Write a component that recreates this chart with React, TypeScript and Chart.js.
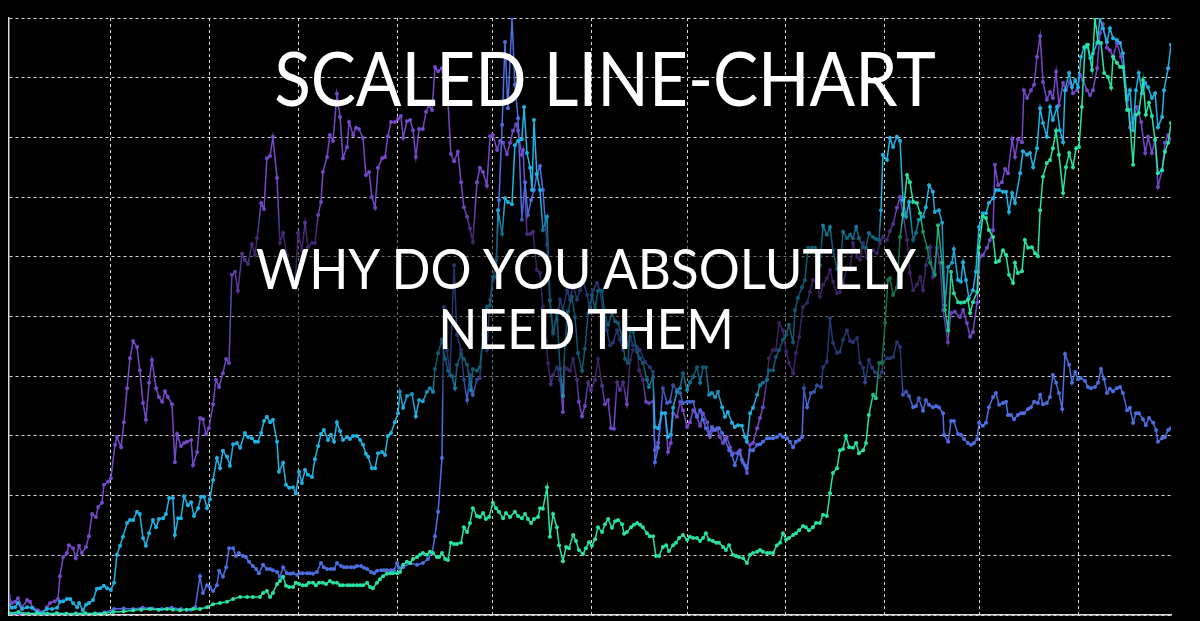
import React, { useEffect, useRef } from 'react';
import { Chart, registerables } from 'chart.js';

Chart.register(...registerables);

// Day index 0 = 30 Nov; grid lines at the first day of each month
const monthStartDays = [32, 63, 91, 122, 152, 183, 213, 244, 275, 305, 336];
const monthLabels = ['Jan', 'Feb', 'Mar', 'Apr', 'May', 'Jun', 'Jul', 'Aug', 'Sep', 'Oct', 'Nov'];
const scaledTicks = [0, 10, 20, 30, 40, 50, 60, 70, 80, 90, 100];

const titleText = 'SCALED LINE-CHART';
const subtitleLines = ['WHY DO YOU ABSOLUTELY', 'NEED THEM'];

// [day, scaled value in %]
const purpleSeries: [number, number][] = [
  [0,3.2],[0.9,2.0],[1.9,2.2],[2.8,2.8],[4.1,1.3],[5.7,2.5],[6.6,2.2],[7.5,1.2],[9.1,0.8],[10.7,0.5],[11.9,1.3],[12.9,2.0],[14.4,2.3],[15.4,2.7],[16.0,6.5],[17.0,9.7],[18.2,10.4],[18.8,11.7],[20.1,11.2],[21.0,9.5],[22.0,11.6],[22.9,10.4],[24.2,11.4],[25.1,13.2],[26.1,16.9],[27.3,16.4],[28.0,18.1],[29.2,18.8],[29.8,21.8],[31.1,22.3],[32.0,22.9],[33.3,28.5],[33.9,29.8],[35.2,28.1],[36.1,32.3],[37.1,38.0],[38.0,43.0],[39.0,45.9],[40.2,44.9],[41.1,41.0],[42.1,35.5],[43.0,32.7],[44.0,38.9],[44.9,42.7],[46.2,38.0],[47.1,36.5],[48.1,35.7],[49.0,37.5],[49.9,36.5],[51.2,35.3],[52.1,25.6],[52.8,30.3],[54.0,28.3],[55.0,28.8],[55.9,29.0],[57.2,29.3],[57.8,25.1],[59.1,27.3],[60.0,33.0],[60.9,32.8],[61.9,30.3],[62.8,31.3],[64.1,35.3],[65.0,39.4],[66.0,38.2],[67.2,40.5],[68.2,42.9],[69.1,42.2],[70.0,57.0],[71.0,57.5],[71.9,54.3],[73.2,60.5],[74.1,59.5],[75.1,58.8],[76.3,62.1],[77.3,60.3],[77.9,63.1],[79.2,69.0],[80.1,68.0],[81.0,76.5],[82.0,76.9],[82.9,80.1],[84.2,73.2],[85.1,62.3],[86.1,64.0],[87.3,60.3],[88.3,57.8],[89.8,54.8],[90.8,64.0],[92.0,61.1],[93.0,65.7],[93.9,61.6],[95.2,62.3],[96.1,62.3],[97.1,67.0],[98.0,69.2],[98.6,74.2],[99.9,76.7],[100.8,80.4],[101.8,79.4],[103.0,87.3],[104.0,83.4],[104.9,76.5],[106.2,78.4],[106.8,82.6],[108.1,80.4],[109.0,81.6],[109.9,81.4],[111.2,79.9],[112.1,73.7],[113.1,74.2],[114.0,70.0],[115.0,68.2],[115.9,74.9],[117.2,76.5],[118.1,76.7],[119.0,80.2],[120.0,82.6],[121.2,82.6],[122.2,83.1],[123.1,83.6],[123.8,79.9],[125.0,82.7],[126.0,82.9],[126.9,81.2],[127.8,76.7],[128.8,81.4],[130.0,81.4],[131.0,84.3],[131.9,85.3],[132.9,84.6],[133.8,91.8],[134.8,91.1],[136.0,91.6],[137.0,87.9],[137.9,85.9],[138.8,77.2],[139.8,76.0],[141.0,77.6],[142.0,72.5],[142.9,68.3],[143.9,66.7],[144.8,64.7],[145.7,62.5],[147.0,72.5],[147.9,74.9],[148.9,74.2],[150.1,71.9],[151.1,80.2],[152.0,80.4],[153.3,77.9],[154.2,79.4],[155.2,79.1],[156.4,77.2],[157.4,79.1],[158.3,81.1],[159.3,82.2],[159.9,81.1],[161.1,77.1],[161.5,77.9],[162.7,63.8],[163.7,63.8],[164.6,64.2],[165.8,57.8],[166.8,57.3],[167.7,51.6],[168.7,45.9],[169.3,42.2],[170.2,38.7],[170.9,40.2],[172.1,41.5],[173.1,39.4],[174.0,34.0],[174.6,41.5],[175.3,41.2],[176.2,40.9],[177.2,42.9],[178.4,39.4],[179.0,35.7],[180.0,33.3],[180.9,35.0],[181.9,39.0],[182.8,37.7],[184.1,39.4],[185.0,42.9],[186.3,38.4],[187.2,35.3],[188.2,36.0],[189.1,31.3],[190.0,31.2],[191.0,39.0],[191.9,37.7],[192.9,39.0],[194.1,35.3],[195.1,42.7],[196.0,44.4],[197.3,44.7],[197.9,41.0],[199.1,39.4],[200.1,35.7],[201.0,35.5],[202.3,35.7],[202.9,27.6],[203.9,28.8],[205.1,33.8],[206.1,33.8],[207.0,27.3],[207.9,28.8],[208.6,33.8],[209.8,33.2],[210.8,35.7],[211.7,34.3],[213.0,31.5],[213.9,32.3],[214.9,34.3],[216.1,33.2],[217.1,31.7],[218.0,33.8],[219.3,32.3],[220.2,29.8],[221.1,31.0],[222.4,31.3],[223.3,29.8],[224.3,28.8],[225.5,29.8],[226.5,28.1],[227.4,27.1],[228.7,27.1],[229.6,27.6],[230.6,25.5],[231.8,23.8],[232.8,28.5],[233.7,28.8],[235.0,31.3],[235.9,33.0],[236.8,34.8],[238.1,39.4],[238.7,43.0],[240.0,44.4],[240.9,44.4],[241.9,48.9],[243.1,47.7],[244.1,44.1],[245.0,42.2],[246.3,40.5],[247.2,43.9],[248.2,46.6],[249.4,51.6],[250.7,52.3],[251.6,54.1],[252.5,56.1],[253.8,55.6],[254.7,53.3],[255.7,55.3],[256.9,56.4],[257.9,57.8],[258.8,55.8],[260.1,53.9],[261.0,54.1],[262.0,55.6],[263.2,58.1],[264.2,57.8],[265.1,62.3],[266.4,60.0],[267.3,59.5],[268.3,62.3],[269.5,59.8],[270.4,60.8],[271.4,61.1],[272.6,60.6],[273.6,62.3],[274.5,63.3],[275.8,62.8],[276.7,64.3],[277.7,65.5],[278.9,68.2],[279.9,70.0],[280.8,67.3],[282.1,62.8],[283.0,57.3],[284.0,54.4],[285.2,55.3],[286.2,56.6],[287.1,54.4],[288.0,58.6],[289.3,61.6],[290.2,56.6],[291.5,61.5],[292.4,59.0],[293.4,51.1],[294.9,45.7],[295.9,50.6],[297.1,50.8],[298.7,49.9],[299.7,51.1],[300.9,48.9],[301.9,46.6],[302.8,47.4],[304.1,52.3],[305.0,60.0],[305.9,60.3],[307.2,61.5],[308.1,62.8],[309.1,64.5],[309.7,75.4],[310.7,72.0],[311.9,72.5],[312.9,74.7],[313.8,74.0],[315.1,79.7],[316.0,76.7],[316.9,79.7],[318.2,79.2],[318.8,87.9],[319.8,86.6],[321.0,87.9],[322.0,88.8],[322.9,93.5],[323.9,97.0],[324.8,89.3],[326.0,86.3],[327.0,87.6],[327.9,86.6],[328.9,91.0],[329.8,85.4],[331.1,89.1],[332.0,87.9],[333.3,89.3],[334.2,87.4],[335.5,87.9],[336.4,90.5],[337.4,89.6],[338.6,87.9],[339.6,87.1],[340.5,87.9],[341.8,91.6],[342.7,97.5],[343.6,99.0],[344.9,95.0],[345.8,94.6],[346.8,93.5],[348.0,95.8],[349.3,93.5],[349.9,91.8],[351.2,86.8],[352.1,81.7],[353.1,83.2],[354.3,85.1],[355.6,82.6],[356.9,77.4],[357.8,80.1],[359.0,77.4],[360.0,79.6],[360.9,71.7],[362.2,74.5],[363.1,79.1],[364.1,80.4],[365.0,79.7]
];

const cyanSeries: [number, number][] = [
  [0,1.7],[0.9,1.2],[1.9,1.3],[2.8,2.0],[4.1,1.0],[5.7,1.3],[7.2,1.2],[8.8,0.5],[10.4,0.3],[11.9,1.0],[13.5,1.0],[15.1,1.2],[16.0,2.2],[17.0,2.3],[18.2,2.7],[19.2,2.7],[20.1,2.0],[21.4,1.3],[22.0,2.0],[23.2,0.8],[24.2,1.7],[25.1,2.0],[26.4,2.5],[27.6,4.4],[28.6,4.5],[29.8,4.9],[30.8,4.5],[32.0,4.2],[33.0,5.4],[33.9,10.1],[34.9,11.6],[35.8,13.1],[37.1,15.4],[38.0,15.9],[39.0,15.9],[40.2,17.3],[41.1,16.9],[42.1,12.9],[43.0,11.6],[44.0,13.7],[45.2,15.9],[46.2,14.7],[47.1,16.1],[48.4,16.2],[49.3,16.9],[50.3,19.6],[51.5,19.6],[52.1,13.4],[53.1,16.2],[54.0,16.2],[55.0,19.9],[56.2,18.4],[57.2,18.9],[58.1,16.6],[59.4,17.9],[60.3,19.8],[61.3,19.8],[62.2,17.9],[63.1,19.4],[64.1,22.6],[65.3,26.3],[66.3,24.6],[67.2,27.5],[68.5,26.5],[69.4,25.0],[70.4,28.6],[71.6,28.8],[72.6,28.0],[74.1,30.5],[75.1,29.8],[76.3,29.6],[77.3,29.0],[78.2,29.0],[79.2,30.5],[80.1,32.5],[81.0,33.2],[82.0,32.3],[82.9,32.7],[84.2,29.0],[84.8,24.0],[86.1,25.5],[87.0,21.8],[88.0,21.3],[89.2,21.4],[90.1,20.4],[91.1,24.0],[92.0,22.1],[93.0,24.3],[93.9,23.5],[95.2,23.1],[96.1,26.1],[97.1,28.3],[98.0,30.3],[98.9,31.0],[100.2,29.3],[101.1,30.2],[102.1,29.0],[103.0,32.3],[104.0,30.8],[104.9,29.3],[106.2,29.8],[107.1,29.5],[108.1,30.0],[109.3,30.0],[110.3,29.3],[111.2,28.5],[112.1,27.0],[112.8,26.5],[114.0,24.6],[115.0,24.6],[115.9,27.1],[117.2,27.3],[118.1,26.8],[119.0,30.0],[120.0,30.5],[121.2,32.3],[122.2,33.8],[122.8,37.4],[123.8,34.7],[125.0,36.7],[126.6,37.0],[127.8,33.3],[128.8,36.0],[130.0,35.8],[131.3,37.4],[132.2,38.0],[133.2,37.4],[133.8,41.2],[134.8,43.9],[136.0,46.1],[137.0,42.9],[137.9,40.9],[139.2,40.0],[140.1,38.0],[140.7,41.9],[142.0,43.7],[142.9,42.9],[143.9,41.9],[145.1,37.7],[145.7,41.2],[147.0,40.9],[147.9,41.5],[148.9,47.1],[150.1,51.6],[151.1,51.9],[152.0,56.6],[153.0,56.6],[153.6,67.8],[154.9,63.8],[155.8,69.8],[156.7,69.2],[158.0,68.8],[158.9,78.7],[159.9,79.4],[161.1,79.7],[161.8,85.1],[162.7,77.4],[163.7,74.9],[164.3,71.2],[164.9,82.9],[165.8,73.9],[166.8,71.2],[167.7,64.5],[169.0,66.7],[169.9,52.6],[170.9,47.2],[172.1,50.6],[173.1,41.2],[174.0,36.7],[174.6,45.2],[175.6,50.9],[176.8,53.3],[177.8,49.9],[178.7,43.9],[180.0,40.9],[180.9,44.6],[181.9,50.6],[183.1,53.6],[184.1,51.3],[185.0,54.3],[186.3,54.3],[187.2,49.9],[188.2,48.6],[189.4,50.6],[190.4,49.2],[191.3,48.9],[192.6,46.6],[193.5,42.9],[194.4,42.2],[195.1,47.7],[196.0,47.4],[197.3,44.1],[198.2,43.0],[199.1,42.2],[200.4,39.4],[201.0,38.2],[202.3,39.9],[202.9,31.5],[203.9,31.3],[205.1,33.8],[206.1,33.8],[207.0,29.8],[207.9,30.2],[208.6,34.7],[209.8,37.4],[210.8,38.0],[211.7,40.5],[213.0,37.7],[213.9,39.0],[214.9,39.9],[216.1,41.5],[217.1,38.9],[218.0,41.5],[218.9,41.5],[219.9,36.9],[220.8,37.2],[221.8,36.5],[222.7,37.4],[224.0,34.8],[224.9,33.2],[225.8,34.0],[227.1,32.2],[228.0,31.5],[229.0,31.8],[230.2,31.7],[231.2,29.8],[231.8,29.0],[232.8,33.8],[233.7,34.7],[235.0,36.9],[235.9,38.5],[236.8,38.9],[238.1,39.4],[238.7,41.0],[240.0,41.0],[240.9,43.2],[241.9,44.4],[243.1,46.1],[244.1,46.9],[245.0,48.6],[246.3,45.7],[246.9,51.1],[247.8,53.1],[249.1,54.9],[250.0,56.1],[251.0,61.5],[252.2,61.5],[253.2,61.5],[254.7,58.6],[255.7,65.2],[256.9,63.7],[257.9,65.0],[258.8,61.1],[260.1,58.0],[261.0,58.0],[262.0,64.2],[263.2,63.1],[264.2,63.7],[265.1,63.1],[266.1,65.0],[267.0,63.1],[268.3,61.6],[269.2,61.5],[270.1,64.0],[271.4,63.3],[272.3,63.0],[273.3,62.8],[273.9,67.8],[274.5,77.1],[275.8,76.2],[276.7,79.9],[277.7,78.4],[278.9,80.1],[279.9,79.4],[280.8,69.5],[281.8,66.7],[282.7,69.2],[284.0,62.8],[284.9,64.0],[285.8,66.2],[287.1,66.7],[288.0,68.3],[289.0,72.0],[290.2,70.9],[290.8,67.5],[292.1,67.8],[293.1,65.7],[294.0,51.9],[295.0,58.3],[296.2,59.0],[296.8,61.3],[298.1,56.1],[299.0,55.8],[299.7,59.1],[300.6,56.1],[301.5,53.1],[302.8,54.4],[303.7,57.5],[304.7,65.0],[305.9,67.3],[306.9,67.3],[307.8,69.0],[309.1,69.8],[310.0,71.2],[311.0,71.2],[312.2,70.9],[313.2,70.9],[314.1,67.5],[315.1,70.7],[316.0,69.0],[317.6,74.0],[318.5,77.7],[319.8,77.1],[320.7,77.4],[321.7,75.0],[322.9,78.2],[323.9,84.9],[324.8,82.4],[326.0,80.1],[327.0,85.1],[327.9,82.9],[329.2,85.1],[330.1,81.2],[331.1,79.2],[331.7,87.9],[333.0,90.8],[333.9,88.4],[334.9,89.6],[335.8,88.4],[336.7,93.5],[337.7,95.1],[338.6,95.5],[339.6,93.3],[340.5,94.1],[341.8,95.8],[342.7,100],[343.6,98.3],[344.9,96.0],[345.8,98.3],[346.8,96.6],[348.0,96.3],[349.0,95.8],[349.9,94.1],[351.2,86.3],[352.1,87.9],[353.1,81.2],[354.0,87.9],[354.9,90.8],[355.9,87.4],[356.9,89.1],[357.8,88.4],[359.0,86.6],[360.0,87.4],[360.9,81.7],[362.2,83.4],[362.8,87.9],[364.1,91.6],[365.0,95.5]
];

const blueSeries: [number, number][] = [
  [0,0.2],[3,0.3],[6,0.2],[9,0.3],[12,0.2],[15,0.3],[18,0.2],[21,0.3],[24,0.2],[27,0.3],[30,0.4],[33,1.0],[36,1.1],[39,1.0],[42,1.2],[45,1.1],[48,1.0],[51,1.2],[54,1.0],[57,0.9],[58.5,1.3],[60.0,6.5],[60.9,3.7],[62.2,5.0],[63.1,4.7],[64.1,4.0],[65.3,5.0],[66.0,7.4],[67.2,6.4],[68.2,8.0],[69.1,11.2],[70.4,11.2],[71.3,9.9],[72.2,10.4],[73.5,9.9],[74.4,9.7],[75.4,8.9],[76.6,8.2],[77.6,7.7],[78.5,7.0],[79.8,8.4],[81.0,7.7],[82.0,7.7],[82.9,7.5],[84.2,7.2],[85.1,6.4],[86.1,8.0],[87.3,7.0],[88.3,6.9],[89.2,7.0],[90.5,6.7],[91.4,7.0],[92.3,7.0],[93.6,7.0],[94.5,7.0],[95.5,6.9],[96.7,7.2],[98.0,8.7],[98.9,8.0],[99.9,7.7],[101.1,7.7],[102.1,7.7],[103.0,8.7],[104.3,8.2],[105.2,8.0],[106.2,8.0],[107.4,8.0],[108.4,8.0],[109.3,8.2],[110.6,8.2],[111.5,7.9],[112.5,7.7],[113.7,7.2],[114.7,7.0],[115.6,7.4],[116.9,7.5],[117.8,7.5],[118.7,7.5],[120.0,7.5],[120.9,7.5],[121.9,8.7],[122.5,7.9],[123.8,8.0],[126.0,8.7],[128.2,8.4],[130.0,8.7],[131.6,9.4],[132.9,10.4],[133.8,13.2],[134.8,17.3],[136.0,26.3],[136.6,51.6],[137.6,44.4],[138.5,40.2],[139.8,58.6],[140.7,46.9],[142.0,44.4],[142.9,39.4],[143.9,36.0],[144.8,40.2],[145.7,36.9],[147.0,39.4],[147.9,39.7],[148.9,46.9],[150.1,44.4],[151.1,52.8],[152.0,56.1],[153.0,59.5],[153.9,69.5],[154.9,82.1],[155.8,96.0],[156.7,84.9],[158.0,100],[158.9,88.8],[159.9,83.2],[161.1,66.2],[162.1,72.5],[163.0,67.0],[164.0,69.5],[164.9,71.2],[165.8,73.7],[166.8,75.2],[167.7,71.2],[169.0,62.0],[169.9,52.8],[170.9,47.7],[172.1,49.4],[173.1,52.8],[174.0,51.1],[175.3,54.4],[176.2,52.8],[177.2,55.3],[178.4,52.8],[179.4,54.4],[180.3,56.1],[181.6,53.6],[182.5,51.1],[183.4,54.4],[184.7,55.6],[185.6,54.4],[186.6,51.1],[187.8,47.7],[188.8,45.2],[189.7,45.6],[191.0,47.7],[191.9,46.1],[192.9,44.4],[194.1,45.2],[195.1,46.6],[196.0,45.2],[197.3,44.9],[198.2,44.4],[199.8,42.4],[201.3,41.5],[202.3,40.7],[202.9,25.6],[203.9,28.0],[205.4,38.0],[206.7,35.5],[207.6,35.7],[208.6,38.5],[209.8,37.7],[210.8,37.2],[211.7,35.5],[213.0,35.7],[213.9,35.7],[214.9,35.7],[216.1,33.2],[217.1,34.3],[218.0,32.7],[218.9,31.3],[219.9,30.2],[220.8,31.5],[221.8,31.0],[223.0,31.3],[224.0,30.5],[224.9,29.3],[226.2,27.6],[227.1,26.8],[228.0,25.1],[229.3,27.3],[230.2,26.0],[231.2,25.1],[231.8,24.6],[232.8,27.6],[233.7,27.6],[235.0,28.5],[235.9,28.6],[236.8,29.0],[238.1,29.6],[239.0,29.6],[240.0,29.6],[241.2,29.8],[242.2,30.2],[243.1,29.8],[244.4,29.6],[245.3,29.0],[246.3,28.1],[247.2,29.0],[248.2,29.3],[249.1,29.8],[249.7,38.0],[250.7,34.8],[251.9,37.2],[252.9,37.4],[253.8,38.5],[255.1,38.2],[255.7,41.5],[256.9,42.4],[257.9,49.7],[258.8,45.6],[260.1,43.9],[261.0,44.1],[262.0,46.1],[263.2,47.7],[264.2,45.9],[265.1,45.7],[266.4,46.4],[267.3,42.2],[268.3,41.4],[268.9,39.0],[270.1,42.7],[271.1,41.4],[272.0,40.7],[273.3,39.9],[274.2,40.7],[274.5,42.4],[275.8,43.0],[276.7,43.0],[277.7,43.2],[278.9,45.7],[279.9,44.9],[280.8,36.9],[281.8,37.4],[282.7,36.7],[284.0,34.8],[284.9,35.0],[285.8,36.3],[287.1,34.2],[288.0,36.0],[289.0,35.2],[290.2,34.8],[291.2,35.0],[292.1,34.8],[293.4,33.8],[293.7,30.2],[295.0,29.0],[295.9,32.5],[296.8,32.5],[298.1,30.3],[299.0,30.2],[300.0,29.5],[301.2,28.8],[302.2,28.5],[303.1,28.8],[304.1,29.5],[304.7,32.2],[305.9,31.7],[306.9,32.2],[307.8,34.8],[309.1,36.5],[310.0,37.2],[311.0,35.2],[312.2,35.5],[313.2,35.7],[313.8,33.5],[314.7,33.5],[315.7,32.8],[316.9,33.5],[317.9,33.8],[318.8,33.8],[320.1,34.5],[321.0,34.8],[322.0,35.7],[323.2,35.5],[323.9,36.9],[324.8,35.3],[326.0,35.5],[327.0,36.5],[327.9,40.2],[328.9,38.9],[329.8,37.2],[330.8,34.5],[331.7,43.7],[333.0,41.9],[333.9,38.9],[334.9,40.7],[335.8,39.5],[336.7,39.7],[338.0,39.2],[338.9,38.2],[339.9,38.0],[341.1,38.2],[342.1,38.9],[343.0,41.2],[344.0,39.5],[344.9,37.2],[345.8,37.9],[346.8,37.5],[348.0,38.0],[349.0,38.2],[349.9,37.2],[351.2,34.3],[352.1,34.7],[353.1,32.2],[354.0,33.8],[354.9,33.8],[356.2,32.8],[357.1,31.8],[358.1,33.0],[359.4,32.2],[360.3,31.0],[360.9,29.0],[362.2,29.6],[363.1,29.8],[364.1,31.0],[365.0,31.3]
];

const greenSeries: [number, number][] = [
  [0,0.3],[3,0.5],[6,0.2],[9,0.3],[12,0.2],[15,0.3],[18,0.2],[21,0.2],[24,0.3],[27,0.2],[30,0.3],[32.7,0.5],[36,0.6],[39.0,0.8],[41.5,0.9],[44.3,1.0],[47,0.9],[49.6,1.0],[51.5,0.9],[53.7,0.8],[55.8,0.9],[57.8,1.0],[60.0,1.0],[62.2,1.3],[64.1,1.8],[66.3,2.0],[68.5,2.2],[70.4,2.7],[72.6,3.0],[74.8,3.0],[76.6,3.0],[78.8,3.0],[79.8,3.7],[81.0,4.0],[82.0,3.0],[82.9,3.7],[84.2,5.2],[85.1,5.7],[86.1,6.4],[87.0,4.9],[88.0,4.7],[89.2,4.7],[90.1,5.4],[91.1,5.2],[92.3,5.0],[93.3,5.0],[94.2,5.4],[95.5,5.4],[96.4,5.0],[97.4,5.4],[98.6,5.4],[99.6,5.2],[100.8,5.7],[101.8,5.4],[103.0,5.4],[104.0,5.0],[104.9,5.0],[106.2,5.0],[107.1,5.0],[108.1,5.0],[109.3,5.0],[110.3,5.0],[111.2,5.0],[112.5,5.4],[113.4,4.7],[114.3,4.5],[115.6,5.4],[116.5,6.0],[117.5,6.5],[118.7,6.9],[119.7,7.0],[120.6,7.0],[121.9,7.0],[122.8,7.2],[123.8,8.4],[125.0,8.9],[126.0,8.7],[126.9,9.4],[128.2,9.7],[129.1,10.1],[130.0,10.4],[131.3,10.1],[132.2,10.6],[133.2,10.4],[134.4,9.7],[135.1,9.7],[136.0,10.4],[137.0,9.4],[137.9,9.2],[138.8,12.1],[139.8,11.9],[140.7,11.9],[142.0,12.1],[142.9,14.7],[143.9,13.9],[144.8,15.4],[145.7,17.9],[147.0,16.6],[147.9,16.4],[148.9,17.1],[149.8,16.1],[150.8,16.4],[152.0,18.8],[153.0,17.9],[153.9,17.3],[155.2,16.2],[156.1,17.1],[157.4,16.4],[158.9,17.3],[159.9,16.6],[161.1,16.2],[162.1,16.9],[163.0,16.1],[164.0,15.4],[164.9,16.1],[166.2,16.4],[166.8,17.9],[167.7,17.8],[169.0,21.4],[169.9,13.1],[170.9,16.9],[172.1,14.7],[172.8,11.7],[174.0,9.0],[175.0,11.4],[175.9,11.2],[177.2,13.4],[178.1,12.4],[179.0,10.9],[180.3,10.2],[181.2,11.2],[182.2,12.2],[183.1,11.6],[184.1,12.7],[185.0,14.7],[186.3,13.9],[187.2,15.2],[188.2,16.1],[189.4,14.6],[190.4,15.7],[191.3,15.9],[192.6,15.2],[193.2,13.6],[194.1,13.9],[195.4,14.7],[196.3,15.1],[197.3,15.4],[198.2,15.1],[199.1,14.7],[200.4,13.7],[201.3,13.2],[202.3,13.2],[203.2,9.9],[204.2,9.9],[205.4,11.4],[206.4,11.7],[207.3,10.7],[208.6,11.7],[209.5,12.1],[210.5,12.9],[211.7,13.4],[213.0,12.6],[213.9,13.1],[214.9,12.9],[216.1,12.9],[217.1,12.4],[218.0,12.9],[218.9,13.7],[219.9,12.6],[221.1,12.4],[222.1,12.1],[223.0,12.1],[224.3,11.4],[225.2,10.9],[226.2,11.7],[227.4,10.1],[228.4,9.9],[229.3,9.7],[230.6,9.5],[231.8,8.7],[232.8,10.1],[233.7,10.4],[235.0,10.6],[235.9,10.9],[236.8,10.6],[238.1,10.4],[239.0,10.4],[240.0,10.4],[241.2,11.7],[242.2,12.1],[243.1,13.7],[244.1,12.6],[245.0,12.9],[246.3,13.4],[247.2,13.7],[248.2,14.2],[249.4,14.9],[250.3,14.7],[251.3,14.2],[252.5,14.7],[253.5,15.4],[254.7,15.4],[255.7,16.8],[256.9,16.6],[257.9,20.4],[258.8,23.8],[260.1,24.6],[261.0,27.6],[262.0,27.8],[262.9,30.0],[263.9,28.1],[265.1,28.0],[266.1,28.8],[267.0,27.1],[268.3,27.6],[269.2,28.8],[270.1,33.5],[271.4,36.9],[272.3,36.3],[273.3,42.2],[274.2,42.2],[275.2,48.9],[276.1,56.1],[276.7,56.4],[277.7,53.6],[278.9,54.8],[279.9,63.3],[280.8,67.0],[282.1,73.7],[283.0,72.5],[284.0,69.2],[285.2,69.0],[286.2,67.3],[287.1,64.2],[288.4,61.5],[289.3,59.0],[290.8,57.0],[291.8,65.3],[293.1,59.0],[294.0,51.1],[295.0,47.7],[295.9,57.5],[296.8,53.9],[298.1,52.4],[299.0,52.3],[300.0,52.4],[301.2,52.8],[301.9,50.6],[302.8,52.4],[304.1,54.1],[304.7,61.6],[305.9,66.8],[306.9,66.5],[307.8,64.5],[309.1,63.3],[310.0,59.1],[311.0,59.3],[312.2,61.1],[313.2,60.3],[314.1,57.0],[315.4,55.6],[316.0,59.0],[316.9,57.3],[318.2,57.6],[319.1,62.8],[320.1,61.5],[321.3,61.6],[322.3,60.6],[323.2,60.1],[323.9,67.8],[324.8,73.4],[326.0,75.7],[327.0,76.2],[327.9,78.2],[328.9,81.1],[329.8,77.1],[331.1,70.7],[332.0,75.0],[333.0,77.4],[334.2,75.0],[335.2,78.2],[336.1,78.4],[337.0,85.1],[338.0,95.1],[338.9,95.5],[340.2,91.3],[341.1,100],[342.1,96.0],[343.0,95.8],[344.0,90.8],[345.2,90.1],[346.2,88.3],[346.8,93.5],[348.0,92.5],[349.0,91.8],[349.9,91.8],[351.2,84.6],[351.8,84.6],[353.1,75.4],[354.0,83.8],[354.9,84.1],[356.2,89.6],[357.1,83.8],[358.1,85.8],[359.0,83.6],[360.0,79.6],[360.9,74.0],[362.2,74.5],[363.1,77.6],[364.1,79.1],[365.0,82.4]
];

const seriesNames = ['green', 'cyan', 'blue', 'purple'];
const seriesColors = ['#27e3a4', '#1fb3e4', '#4c6ee0', '#7448c8'];

export default function App() {
  const canvasRef = useRef<HTMLCanvasElement>(null);

  useEffect(() => {
    if (!canvasRef.current) return;
    const all = [greenSeries, cyanSeries, blueSeries, purpleSeries];
    const datasets = all.map((s, i) => ({
      label: seriesNames[i],
      data: s.map(([x, y]) => ({ x, y })),
      borderColor: seriesColors[i],
      backgroundColor: seriesColors[i],
      borderWidth: 1.5,
      pointRadius: 2,
      pointBorderWidth: 0,
      pointHoverRadius: 2,
      tension: 0,
      fill: false,
    }));
    const chart = new Chart(canvasRef.current, {
      type: 'line',
      data: { datasets },
      options: {
        animation: false,
        responsive: false,
        maintainAspectRatio: false,
        layout: { padding: { left: 9, top: 18, right: 29, bottom: 6 } },
        plugins: { legend: { display: false }, tooltip: { enabled: false } },
        scales: {
          x: {
            type: 'linear',
            min: 0,
            max: 365,
            afterBuildTicks: (axis: any) => {
              axis.ticks = monthStartDays.map((v, i) => ({ value: v, label: monthLabels[i] }));
            },
            ticks: { display: false },
            grid: { color: 'rgba(228,228,228,0.95)', lineWidth: 1, drawTicks: false },
            border: { display: true, color: '#dcdcdc', width: 1.5, dash: [3, 3] },
          },
          y: {
            type: 'linear',
            min: 0,
            max: 100,
            afterBuildTicks: (axis: any) => {
              axis.ticks = scaledTicks.map((v) => ({ value: v }));
            },
            ticks: { display: false },
            grid: { color: 'rgba(228,228,228,0.95)', lineWidth: 1, drawTicks: false },
            border: { display: true, color: '#dcdcdc', width: 1.5, dash: [3, 3] },
          },
        },
      },
    } as any);
    return () => chart.destroy();
  }, []);

  return (
    <div style={{ position: 'fixed', left: 0, top: 0, width: 1200, height: 621, background: '#000', overflow: 'hidden' }}>
      <canvas ref={canvasRef} width={1200} height={621} style={{ position: 'absolute', left: 0, top: 0, width: 1200, height: 621 }} />
      <div style={{ position: 'absolute', left: 240, top: 224, width: 700, height: 165, background: 'rgba(0,0,0,0.5)', filter: 'blur(12px)' }} />
      <div style={{ position: 'absolute', left: 605, top: 39.5, transform: 'translateX(-50%) scaleX(0.9)', whiteSpace: 'nowrap', color: '#fff', fontFamily: 'Lato, sans-serif', fontWeight: 400, fontSize: 75, lineHeight: '75px' }}>
        {titleText}
      </div>
      <div style={{ position: 'absolute', left: 586, top: 237, transform: 'translateX(-50%) scaleX(0.9)', whiteSpace: 'nowrap', color: '#fff', fontFamily: 'Lato, sans-serif', fontWeight: 400, fontSize: 57, lineHeight: '60px', textAlign: 'center' }}>
        {subtitleLines[0]}
        <br />
        {subtitleLines[1]}
      </div>
    </div>
  );
}
